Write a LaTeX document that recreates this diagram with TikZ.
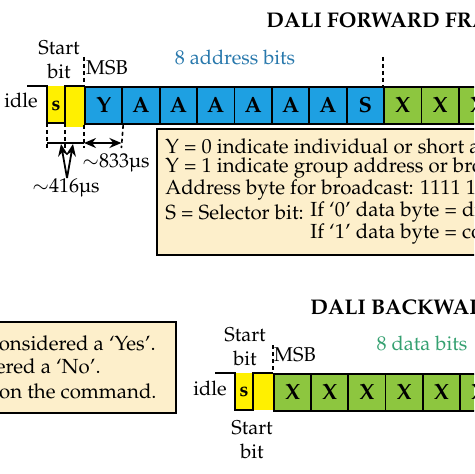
\documentclass[tikz,border=0pt]{standalone}
\usepackage[T1]{fontenc}
\usepackage{mathpazo}
\usepackage{textcomp}
\usetikzlibrary{arrows.meta}

\definecolor{addrblue}{RGB}{30,160,226}
\definecolor{datagreen}{RGB}{141,198,63}
\definecolor{startyellow}{RGB}{255,240,0}
\definecolor{notefill}{RGB}{253,239,203}
\definecolor{addrtext}{RGB}{40,120,172}
\definecolor{datatext}{RGB}{52,160,112}

\tikzset{
    bitbox/.style={draw, line width=0.9pt, minimum width=18.7pt, minimum height=18.5pt,
        inner sep=0pt, anchor=north west, font=\fontsize{11}{13}\selectfont\bfseries},
    addrbit/.style={bitbox, fill=addrblue},
    databit/.style={bitbox, fill=datagreen},
    wave/.style={line width=0.9pt},
    guide/.style={dashed, dash pattern=on 2pt off 1.5pt, line width=0.8pt},
    notebox/.style={draw, line width=0.9pt, fill=notefill},
    notetext/.style={anchor=west, inner sep=0pt, font=\fontsize{10.2}{13}\selectfont},
    frametitle/.style={anchor=west, inner sep=0pt, font=\fontsize{10.6}{13}\selectfont\bfseries}
}

\begin{document}
\begin{tikzpicture}[x=0.5pt, y=-0.5pt, >={Stealth[length=6pt,width=5pt]}]
    \useasboundingbox (0,0) rectangle (474,474);
    \clip (0,0) rectangle (474,474);

    % ---------------- forward frame ----------------
    \node[frametitle] (ftitle) at (266,20) {DALI FORWARD FRA};

    % start bit
    \fill[startyellow] (47,86) rectangle (65,123);
    \fill[startyellow] (65,86) rectangle (84,127);
    \draw[wave] (27,86) -- (47,86) -- (47,123) -- (65,123) -- (65,86) -- (84,86);
    \node[font=\bfseries] (fs) at (56,106) {s};
    \node (fidle) at (21,100) {idle};
    \node[align=center, inner sep=0pt] (fstart) at (59,60) {Start\\bit};

    % address bits
    \foreach \b [count=\i from 0] in {Y,A,A,A,A,A,A,S}
        \node[addrbit] (fa\i) at ({84+37.4*\i},86) {\b};
    % data bits
    \foreach \i in {0,1,2}
        \node[databit] (fx\i) at ({383.2+37.4*\i},86) {X};

    \node (fmsb) at (107,68) {MSB};
    \node[addrtext] (faddr) at (235,57) {8 address bits};
    \draw[guide] (84,57) -- (fa0.north west);
    \draw[guide] (383.2,57) -- (fx0.north west);

    % bit timing
    \foreach \x in {47,65}
        \draw[guide] (\x,123) -- (\x,148);
    \draw[guide] (fa0.south west) -- (84,148);
    \draw[guide] (fa0.south east) -- (121.4,148);
    \draw[line width=0.9pt] (47,143) -- (84,143);
    \draw[<->, line width=0.9pt] (84,143) -- (121.4,143);
    \coordinate (vtip) at (67,178);
    \draw[->, line width=0.9pt] (vtip) -- (61,144);
    \draw[->, line width=0.9pt] (vtip) -- (73,144);
    \node (t833) at (116,163) {$\sim$833\textmu s};
    \node (t416) at (66,188) {$\sim$416\textmu s};

    % note
    \draw[notebox] (157,129) rectangle (490,255);
    \node[notetext] (n1) at (165,146) {Y = 0 indicate individual or short a};
    \node[notetext] (n2) at (165,168) {Y = 1 indicate group address or bro};
    \node[notetext] (n3) at (165,190) {Address byte for broadcast: 1111 1};
    \node[notetext] (n4) at (165,212) {S = Selector bit:};
    \node[notetext] (n4b) at (310,212) {If `0' data byte = di};
    \node[notetext] (n5) at (310,234) {If `1' data byte = co};

    % ---------------- backward frame ----------------
    \node[frametitle] (btitle) at (310,307) {DALI BACKWAR};

    % answer note
    \draw[notebox] (-10,322) rectangle (176,413);
    \node[notetext, anchor=east] (m1) at (156,343) {onsidered a `Yes'.};
    \node[notetext, anchor=east] (m2) at (101,366) {ered a `No'.};
    \node[notetext, anchor=east] (m3) at (157,391) {on the command.};

    % start bit
    \fill[startyellow] (235,373) rectangle (253,410);
    \fill[startyellow] (253,373) rectangle (273,410);
    \draw[wave] (215,373) -- (235,373) -- (235,410) -- (253,410) -- (253,373) -- (273,373);
    \node[font=\bfseries] (bs) at (244,392) {s};
    \node (bidle) at (210,388) {idle};
    \node[align=center, inner sep=0pt] (bstart) at (245,347) {Start\\bit};
    \node[align=center, inner sep=0pt] (bstartb) at (252,440) {Start\\bit};

    % data bits
    \foreach \i in {0,...,5}
        \node[databit] (bx\i) at ({273+37.2*\i},373) {X};

    \node (bmsb) at (295,355) {MSB};
    \node[datatext] (bdata) at (422,343) {8 data bits};
    \draw[guide] (273,345) -- (bx0.north west);
\end{tikzpicture}
\end{document}
